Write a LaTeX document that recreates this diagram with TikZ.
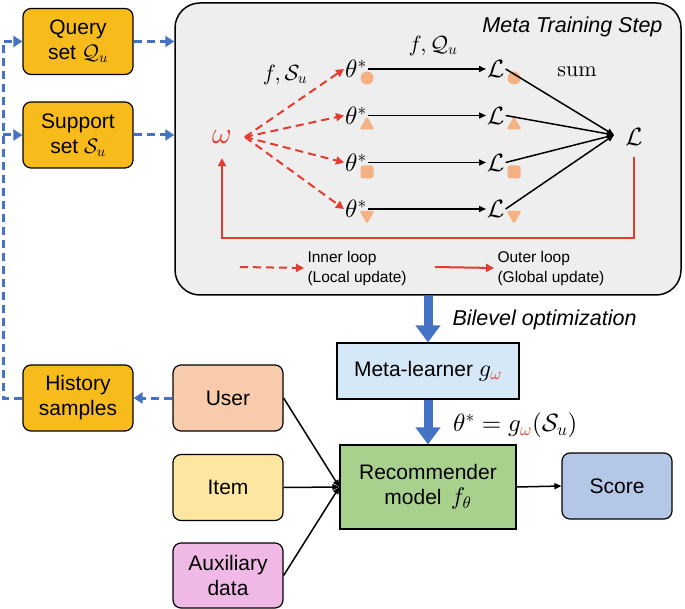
\documentclass[tikz,border=0pt]{standalone}
\usepackage[no-math]{fontspec}
\setmainfont{Liberation Sans}
\DeclareFontShape{OML}{cmm}{m}{it}{<->cmmi10}{}
\DeclareFontShape{OMS}{cmsy}{m}{n}{<->cmsy10}{}
\DeclareFontShape{OT1}{cmr}{m}{n}{<->cmr10}{}
\DeclareFontShape{OMX}{cmex}{m}{n}{<->cmex10}{}
\usetikzlibrary{arrows.meta,calc}
\definecolor{yel}{HTML}{F8BB1C}
\definecolor{usr}{HTML}{F8CBAD}
\definecolor{itm}{HTML}{FCE6A0}
\definecolor{aux}{HTML}{EFB8E5}
\definecolor{mlb}{HTML}{D5E8F7}
\definecolor{rec}{HTML}{A8D18D}
\definecolor{scr}{HTML}{B4C7E7}
\definecolor{rd}{HTML}{E53A2E}
\definecolor{shc}{HTML}{F4B183}
\definecolor{blu}{HTML}{4472C4}
\definecolor{bgg}{HTML}{EEEEEE}
\tikzset{
  boxfont/.style={font=\fontsize{21}{25}\selectfont},
  rbox/.style={draw=black, line width=1.2pt, rounded corners=8pt, minimum width=110pt, minimum height=66pt, align=center, boxfont},
  sbox/.style={draw=black, line width=1.2pt, align=center, boxfont},
  mth/.style={font=\fontsize{22}{24}\selectfont, inner sep=1pt},
  bigmth/.style={font=\fontsize{25}{26}\selectfont, inner sep=1pt},
  bdash/.style={draw=blu, line width=3pt, dash pattern=on 8pt off 5pt, -{Triangle[length=9pt,width=11pt]}},
  rdash/.style={draw=rd, line width=2pt, dash pattern=on 8pt off 5pt, -{Triangle[length=8pt,width=8pt]}},
  rsolid/.style={draw=rd, line width=2pt, -{Triangle[length=8pt,width=8pt]}},
  karr/.style={draw=black, line width=1.5pt, -{Triangle[length=7pt,width=6pt]}},
  bigarr/.style={draw=blu, line width=9pt, -{Triangle[length=17pt,width=24pt]}},
  legend/.style={font=\fontsize{15.5}{20}\selectfont, align=left, anchor=west},
  pcirc/.pic={\fill[shc] (0,0) circle[radius=6.5pt];},
  ptri/.pic={\fill[shc,rounded corners=1.5pt] (-7.5,6) -- (7.5,6) -- (0,-7) -- cycle;},
  psq/.pic={\fill[shc,rounded corners=2.5pt] (-6.5,-6.5) rectangle (6.5,6.5);},
  pdtri/.pic={\fill[shc,rounded corners=1.5pt] (-7.5,-6) -- (7.5,-6) -- (0,7) -- cycle;},
}
\begin{document}
\begin{tikzpicture}[x=1pt,y=-1pt]
\useasboundingbox (0,0) rectangle (685,609);
% meta training box
\node[draw=black, line width=1.5pt, fill=bgg, rounded corners=25pt, minimum width=506pt, minimum height=292pt] (meta) at (428,149) {};
\node[anchor=east, font=\fontsize{21.5}{24}\selectfont\itshape] (mts) at (666,27) {Meta Training Step};

% left boxes
\node[rbox, fill=yel] (qs) at (78,41.5) {Query\\set $\mathcal{Q}_u$};
\node[rbox, fill=yel] (ss) at (78,135) {Support\\set $\mathcal{S}_u$};
\node[rbox, fill=yel] (hs) at (78,398) {History\\samples};
\node[rbox, fill=usr] (us) at (228,398) {User};
\node[rbox, fill=itm] (it) at (228,487.5) {Item};
\node[rbox, fill=aux, minimum height=65pt] (ax) at (228,575.5) {Auxiliary\\data};

\node[sbox, fill=mlb, minimum width=182pt, minimum height=56pt] (ml) at (428,371) {Meta-learner {\fontsize{24}{25}\selectfont$g_{\textcolor{rd}{\omega}}$}};
\node[sbox, fill=rec, minimum width=176pt, minimum height=84pt] (rc) at (428,487) {Recommender\\model\, {\fontsize{24}{25}\selectfont$f_\theta$}};
\node[rbox, fill=scr, minimum height=66pt] (sc) at (617,486) {Score};

% dashed blue connectors
\coordinate (lb) at (3,398);
\coordinate (ls) at (3,135);
\draw[bdash] (us.west) -- (hs.east);
\draw[bdash] (hs.west) -- (lb) |- (qs.west);
\draw[bdash] (ls) -- (ss.west);
\draw[bdash] (qs.east) -- (qs.east -| meta.west);
\draw[bdash] (ss.east) -- (ss.east -| meta.west);

% inner diagram
\node[mth, text=rd, font=\fontsize{30}{30}\selectfont, minimum height=42pt] (om) at (222,137) {$\omega$};
\coordinate (os) at (245,137);
\foreach \i/\y/\p/\d in {1/69/pcirc/9, 2/115.5/ptri/8, 3/162.5/psq/9.5, 4/209/pdtri/8}{
  \node[bigmth, anchor=west] (t\i) at (344,\y) {$\theta^{*}$\hspace{5pt}};
  \pic at (367,\y+\d) {\p};
  \node[bigmth, anchor=west] (l\i) at (486,\y) {$\mathcal{L}$\hspace{17pt}};
  \pic at (514,\y+\d) {\p};
  \draw[rdash] (os) -- (t\i.west);
  \draw[karr] (t\i.east) -- (l\i.west);
}
\node[bigmth] (lf) at (634,137) {$\mathcal{L}$};
\coordinate (lc) at (614,135);
\foreach \i in {1,2,3,4}{ \draw[karr] (l\i.east) -- (lc); }
\node[mth] (fs) at (285,75) {$f,\mathcal{S}_u$};
\node[mth] (fq) at (433,46) {$f,\mathcal{Q}_u$};
\node[mth] (sm) at (577,72) {$\mathrm{sum}$};
\coordinate (rs) at (634,157);
\draw[rsolid] (rs) -- (634,238) -| (om.south);

% legend
\node[legend] (inl) at (304,268) {Inner loop\\(Local update)};
\node[legend] (outl) at (494,268) {Outer loop\\(Global update)};
\coordinate (ia) at (240,267);
\coordinate (oa) at (435,267);
\draw[rdash] (ia) -- (inl.west);
\draw[rsolid] (oa) -- (outl.west);

% big arrows
\draw[bigarr] (meta.south) -- (ml.north);
\draw[bigarr] (ml.south) -- (rc.north);
\node[anchor=west, font=\fontsize{21.5}{24}\selectfont\itshape] (bo) at (449,320) {Bilevel optimization};
\node[bigmth, anchor=west] (eq) at (452,425) {$\theta^{*}=g_{\textcolor{rd}{\omega}}(\mathcal{S}_u)$};

% inputs to recommender
\draw[karr] (us.east) -- (rc.west);
\draw[karr] (it.east) -- (rc.west);
\draw[karr] (ax.east) -- (rc.west);
\draw[karr] (rc.east) -- (sc.west);
\end{tikzpicture}
\end{document}
